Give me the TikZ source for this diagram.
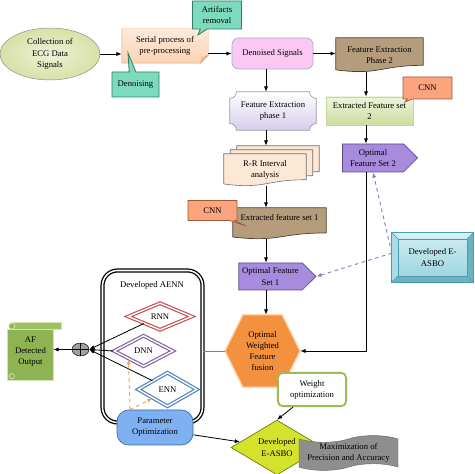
\documentclass[tikz,border=0pt]{standalone}
\usepackage{fontspec}
\setmainfont{Liberation Serif}
\usetikzlibrary{arrows.meta,calc,shapes.geometric,shapes.symbols,shapes.callouts,backgrounds}

\definecolor{ecgfill}{HTML}{D7E1A6}
\definecolor{ecgline}{HTML}{8C8C8C}
\definecolor{serfill}{HTML}{FBD2B2}
\definecolor{serline}{HTML}{E2A77E}
\definecolor{notefill}{HTML}{7DDBBD}
\definecolor{noteline}{HTML}{2F7F68}
\definecolor{pinkfill}{HTML}{FBC8F4}
\definecolor{pinkline}{HTML}{9FB2C9}
\definecolor{brownfill}{HTML}{B59C7D}
\definecolor{brownline}{HTML}{4E3D2B}
\definecolor{cnnfill}{HTML}{FBA47D}
\definecolor{cnnline}{HTML}{A0583A}
\definecolor{greentop}{HTML}{EEF4DA}
\definecolor{greenbot}{HTML}{CCDDA0}
\definecolor{greenline}{HTML}{C4D59E}
\definecolor{optfill}{HTML}{A78BDD}
\definecolor{optline}{HTML}{5B4A8A}
\definecolor{lavfill}{HTML}{D6CCEC}
\definecolor{lavline}{HTML}{9C98AE}
\definecolor{rrfill}{HTML}{FDE7D5}
\definecolor{rrline}{HTML}{6F6F6F}
\definecolor{hexfill}{HTML}{F4913E}
\definecolor{hexline}{HTML}{FDD8B2}
\definecolor{wline}{HTML}{9BBB59}
\definecolor{asbofill}{HTML}{D4E22C}
\definecolor{asboline}{HTML}{6D7A18}
\definecolor{maxdark}{HTML}{8E8E8E}
\definecolor{maxlight}{HTML}{C8C8C8}
\definecolor{maxline}{HTML}{6A6A6A}
\definecolor{esbtop}{HTML}{C9EBF1}
\definecolor{esbbot}{HTML}{9ED6E0}
\definecolor{esbdark}{HTML}{6DB2C0}
\definecolor{esblight}{HTML}{D2EFF4}
\definecolor{esbmid}{HTML}{A9DCE5}
\definecolor{esbline}{HTML}{4A9CAD}
\definecolor{parfill}{HTML}{7FB1F2}
\definecolor{parline}{HTML}{3E6AA8}
\definecolor{affill}{HTML}{8DB352}
\definecolor{afstrip}{HTML}{9EC262}
\definecolor{afline}{HTML}{D3E3B5}
\definecolor{sumfill}{HTML}{A0A0A0}
\definecolor{rnncol}{HTML}{C0504D}
\definecolor{dnncol}{HTML}{8064A2}
\definecolor{enncol}{HTML}{4F81BD}
\definecolor{dashpurple}{HTML}{8A7CC0}
\definecolor{dashorange}{HTML}{F0A05A}

\tikzset{
  txt/.style={align=center, inner sep=1pt},
  flow/.style={-{Latex[length=4.5pt,width=3.5pt]}, line width=0.7pt},
  dasharr/.style={-{Latex[length=4.5pt,width=3.5pt]}, dashed, line width=0.8pt},
  note/.style={rectangle callout, draw=noteline, fill=notefill, line width=0.7pt,
    align=center, inner sep=1pt, callout pointer width=2mm},
  cnnnote/.style={rectangle callout, draw=cnnline, fill=cnnfill, line width=0.6pt,
    align=center, inner sep=1pt, callout pointer width=1.5mm},
  optset/.style={signal, signal to=east, draw=optline, fill=optfill, line width=0.6pt,
    align=center, inner sep=1pt},
  net/.style={diamond, draw=#1, double=white, line width=1pt, double distance=1.2pt,
    inner sep=0pt, align=center}
}

% document page with wavy bottom, drawn behind node #1
\newcommand{\docshape}[2]{%
  \begin{scope}[on background layer]
    \draw[#2] (#1.north west) -- (#1.north east)
      -- ($(#1.north east)!0.8!(#1.south east)$)
      .. controls ($(#1.north)!0.8!(#1.south)$) and ($(#1.north)!1.1!(#1.south)$)
      .. ($(#1.north west)!0.93!(#1.south west)$) -- cycle;
  \end{scope}}

% plaque with concave corners, drawn behind node #1
\newcommand{\plaqueshape}[2]{%
  \begin{scope}[on background layer]
    \draw[#2] ($(#1.north west)+(0,-2mm)$) -- ($(#1.south west)+(0,2mm)$)
      arc[start angle=90, end angle=0, radius=2mm]
      -- ($(#1.south east)+(-2mm,0)$)
      arc[start angle=180, end angle=90, radius=2mm]
      -- ($(#1.north east)+(0,-2mm)$)
      arc[start angle=270, end angle=180, radius=2mm]
      -- ($(#1.north west)+(2mm,0)$)
      arc[start angle=0, end angle=-90, radius=2mm] -- cycle;
  \end{scope}}

\begin{document}
\begin{tikzpicture}[x=0.3mm, y=0.3mm, font=\fontsize{7.4}{9.5}\selectfont]

    \useasboundingbox (0,0) rectangle (474,474);
    \coordinate (col1) at (266,0);
    \coordinate (col2) at (366,0);

    % top row
    \node[ellipse, draw=ecgline, inner color=ecgfill!45!white, outer color=ecgfill,
      minimum width=30mm, minimum height=15.6mm, align=center, inner sep=0pt]
      (ecg) at (50,420) {Collection of\\ECG Data\\Signals};
    \node[txt, minimum width=25.8mm, minimum height=10.2mm] (serial) at (165,428)
      {Serial process of\\pre-processing};
    \begin{scope}[on background layer]
      \draw[serline, top color=serfill!45!white, bottom color=serfill]
        (serial.north west) -- (serial.north east) -- ($(serial.south east)+(0,2.4mm)$)
        -- ($(serial.south east)+(-2.4mm,0)$) -- (serial.south west) -- cycle;
      \draw[serline, fill=serfill!80!brown] ($(serial.south east)+(0,2.4mm)$)
        -- ($(serial.south east)+(-2.4mm,0)$) -- ($(serial.south east)+(-1.7mm,1.7mm)$) -- cycle;
    \end{scope}
    \node[note, minimum width=14.7mm, minimum height=8.4mm,
      callout absolute pointer={(198,439)}] (artif) at (217,459) {Artifacts\\removal};
    \node[note, minimum width=14.1mm, minimum height=7.5mm,
      callout absolute pointer={(128,421)}] (denoise) at (135.5,389.5) {Denoising};

    \node[rectangle, rounded corners=2mm, draw=pinkline, fill=pinkfill, line width=0.6pt,
      minimum width=24.3mm, minimum height=9.3mm, align=center] (dsig) at (272.5,420.5)
      {Denoised Signals};
    \node[txt, minimum width=26.1mm, minimum height=10.2mm] (fe2) at (379.5,419)
      {Feature Extraction\\Phase 2};
    \docshape{fe2}{draw=brownline, fill=brownfill, line width=0.6pt}

    % right branch
    \node[txt, draw=greenline, top color=greentop, bottom color=greenbot,
      minimum width=26.1mm, minimum height=8.4mm] (efs2) at (369.5,363)
      {Extracted Feature set\\2};
    \node[cnnnote, minimum width=14.7mm, minimum height=6.6mm,
      callout absolute pointer={(405,372)}] (cnn2) at (427.5,386) {CNN};
    \node[optset, minimum width=22.5mm, minimum height=8.4mm] (ofs2) at (373,316)
      {Optimal\\Feature Set 2};

    % left branch
    \node[txt, minimum width=25.8mm, minimum height=11.4mm] (fe1) at (273,363)
      {Feature Extraction\\phase 1};
    \plaqueshape{fe1}{draw=lavline, top color=white, bottom color=lavfill, line width=0.6pt}

    \node[txt, minimum width=24.6mm, minimum height=9.6mm] (rrc) at (278,312) {};
    \node[txt, minimum width=24.6mm, minimum height=9.6mm] (rrb) at (271.5,308) {};
    \node[txt, minimum width=24.6mm, minimum height=9.6mm] (rr) at (265,304)
      {R-R Interval\\analysis};
    \docshape{rrc}{draw=rrline, fill=rrfill, line width=0.5pt}
    \docshape{rrb}{draw=rrline, fill=rrfill, line width=0.5pt}
    \docshape{rr}{draw=rrline, fill=rrfill, line width=0.5pt}

    \node[txt, minimum width=27.9mm, minimum height=9.3mm, text depth=11pt] (efs1)
      at (279.5,250.5) {Extracted feature set 1};
    \docshape{efs1}{draw=brownline, fill=brownfill, line width=0.6pt}
    \node[cnnnote, minimum width=14.7mm, minimum height=6mm,
      callout absolute pointer={(246,248)}] (cnn1) at (212.5,263.5) {CNN};
    \node[optset, minimum width=23.1mm, minimum height=8.1mm] (ofs1) at (270.5,197.5)
      {Optimal Feature\\Set 1};

    % optimizer box
    \node[txt, minimum width=24.3mm, minimum height=14.7mm] (esb) at (432.5,216.5)
      {Developed E-\\ASBO};
    \begin{scope}[on background layer]
      \fill[esbdark] (esb.south west) rectangle (esb.north east);
      \fill[esblight] (esb.north west) -- (esb.north east) -- ($(esb.north east)+(-1.8mm,-1.8mm)$)
        -- ($(esb.north west)+(1.8mm,-1.8mm)$) -- cycle;
      \fill[esbmid] (esb.north west) -- ($(esb.north west)+(1.8mm,-1.8mm)$)
        -- ($(esb.south west)+(1.8mm,1.8mm)$) -- (esb.south west) -- cycle;
      \draw[esbline, top color=esbtop, bottom color=esbbot]
        ($(esb.north west)+(1.8mm,-1.8mm)$) rectangle ($(esb.south east)+(-1.8mm,1.8mm)$);
      \draw[esbline] (esb.north west) -- ++(1.8mm,-1.8mm) (esb.north east) -- ++(-1.8mm,-1.8mm)
        (esb.south west) -- ++(1.8mm,1.8mm) (esb.south east) -- ++(-1.8mm,1.8mm);
      \draw[esbline, line width=0.6pt] (esb.south west) rectangle (esb.north east);
    \end{scope}

    % fusion
    \node[txt, minimum width=22.5mm, minimum height=21.6mm] (hex) at (262.5,123)
      {Optimal\\Weighted\\Feature\\fusion};
    \begin{scope}[on background layer]
      \draw[hexline, line width=1.2pt, fill=hexfill] (hex.west)
        -- ($(hex.north west)+(5.4mm,0)$) -- ($(hex.north east)+(-5.4mm,0)$) -- (hex.east)
        -- ($(hex.south east)+(-5.4mm,0)$) -- ($(hex.south west)+(5.4mm,0)$) -- cycle;
    \end{scope}
    \node[rectangle, rounded corners=1.5mm, draw=wline, line width=1.6pt, fill=white,
      minimum width=20.5mm, minimum height=10mm, align=center] (weight) at (312,84.5)
      {Weight\\optimization};

    % classifier
    \node[rectangle, rounded corners=4.5mm, draw, double=white, line width=1.1pt,
      double distance=1.3pt, fill=white, minimum width=30mm, minimum height=45.6mm]
      (aenn) at (152.5,127.5) {};
    \node[txt] (aennlab) at (152,189) {Developed AENN};
    \node[net=rnncol, minimum width=19.2mm, minimum height=8.1mm] (rnn) at (160,157.5) {RNN};
    \node[net=dnncol, minimum width=17.7mm, minimum height=9.3mm] (dnn) at (143.5,123) {DNN};
    \node[net=enncol, minimum width=17.7mm, minimum height=10.2mm] (enn) at (167.5,84.5) {ENN};
    \node[rectangle, rounded corners=3.5mm, draw=parline, fill=parfill, line width=0.6pt,
      minimum width=22.8mm, minimum height=10.5mm, align=center] (param) at (155,46.5)
      {Parameter\\Optimization};

    \node[ellipse, draw, fill=sumfill, minimum width=5.1mm, minimum height=3.9mm,
      inner sep=0pt] (sum) at (80.5,124.5) {};
    \draw (sum.north) -- (sum.south) (sum.west) -- (sum.east);

    \node[txt, minimum width=13.5mm, minimum height=17.1mm, inner sep=0pt] (af)
      at (30.5,122.5) {AF\\Detected\\Output};
    \begin{scope}[on background layer]
      \draw[afline, fill=affill, line width=0.9pt] (af.south west)
        rectangle ($(af.north east)+(0,-2mm)$);
      \draw[afline, fill=afstrip, line width=0.9pt] ($(af.north west)+(1.2mm,0)$)
        rectangle ($(af.north east)+(2.4mm,-2mm)$);
      \draw[afline, fill=affill, line width=0.6pt] ($(af.north west)+(1.2mm,-1mm)$) circle (0.9mm);
      \draw[afline, fill=affill, line width=0.6pt] ($(af.south west)+(1.2mm,1.2mm)$) circle (0.8mm);
    \end{scope}

    % bottom
    \node[diamond, draw=asboline, fill=asbofill, line width=0.6pt, minimum width=27.6mm,
      minimum height=14.7mm, inner sep=0pt, align=center] (easbo) at (277,26.5)
      {Developed\\E-ASBO};
    \node[tape, draw=maxline, left color=maxdark, middle color=maxlight, right color=maxdark,
      tape bend top=in and out, tape bend bottom=in and out, tape bend height=2mm,
      minimum width=29.7mm, minimum height=10mm, align=center, inner sep=1pt] (maxi)
      at (348.5,21) {Maximization of\\Precision and Accuracy};

    % connectors
    \draw[flow] (ecg) -- (ecg -| serial.west);
    \draw[flow] (serial.east |- dsig) -- (dsig.west);
    \draw[flow] (dsig) -- (dsig -| fe2.west);
    \draw[flow] (dsig.south -| col1) -- (fe1.north -| col1);
    \draw[flow] (fe1.south -| col1) -- (rrc.north -| col1);
    \draw[flow] (rr.south -| col1) -- (efs1.north -| col1);
    \draw[flow] (efs1.south -| col1) -- (ofs1.north -| col1);
    \draw[flow] (ofs1.south -| col1) -- (hex.north -| col1);
    \draw[flow] (fe2.south -| col2) -- (efs2.north -| col2);
    \draw[flow] (efs2.south -| col2) -- (ofs2.north -| col2);
    \draw[flow] (ofs2.south -| col2) |- (hex.east);
    \draw[gray, line width=0.7pt] (hex.west -| aenn.east) -- (hex.west);

    \draw[dasharr, dashpurple] ([yshift=1.3mm]esb.west) -- (ofs1.east);
    \draw[dasharr, dashpurple] ([yshift=1.3mm]esb.west) -- (ofs2.south);

    \draw[flow] (rnn.south west) -- (sum.east);
    \draw[flow] (dnn.west) -- (sum.east);
    \draw[flow] (enn.north west) -- (sum.east);
    \draw[flow] (sum.west) -- (sum.west -| af.east);

    \draw[dasharr, dashorange] ([xshift=-7.5mm]param.north) -- (dnn.south west);
    \draw[dasharr, dashorange] ([xshift=-7.5mm]param.north) -- (enn.south west);
    \draw[flow] ([yshift=-2.2mm]param.east) -- (easbo);
    \draw[flow] ([xshift=-5.7mm]weight.south) -- (easbo.north);

\end{tikzpicture}
\end{document}
